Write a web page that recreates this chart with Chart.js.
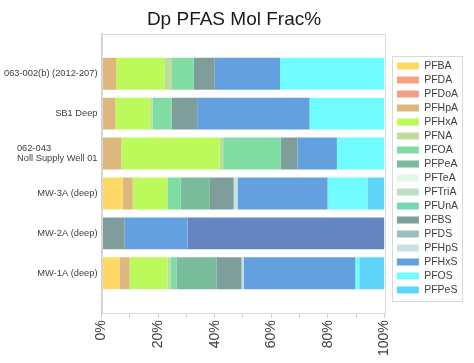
<!DOCTYPE html>
<html>
<head>
<meta charset="utf-8">
<script src="https://cdn.jsdelivr.net/npm/chart.js@4/dist/chart.umd.min.js"></script>
<style>
  html, body { margin: 0; padding: 0; background: #ffffff; }
  #wrap { width: 474px; height: 363px; }
</style>
</head>
<body>
<div id="wrap"><canvas id="c" width="474" height="363"></canvas></div>
<script>
// ---- data (mol fraction %) ----
const categories = [
  ["063-002(b) (2012-207)"],
  ["SB1 Deep"],
  ["062-043                  ", "Noll Supply Well 01"],
  ["MW-3A (deep)"],
  ["MW-2A (deep)"],
  ["MW-1A (deep)"]
];
const PFBA   = [0,    0,    0,    7.5,  0,    6.3];
const PFDA   = [0,    0,    0,    0,    0,    0];
const PFDoA  = [0,    0,    0,    0,    0,    0];
const PFHpA  = [5.2,  4.9,  7.0,  3.5,  0,    3.6];
const PFHxA  = [17.2, 12.3, 34.8, 12.3, 0,    13.4];
const PFNA   = [2.5,  0.8,  1.2,  0,    0,    1.0];
const PFOA   = [7.7,  6.8,  20.4, 4.7,  0,    2.3];
const PFPeA  = [0,    0,    0,    10.3, 0,    14.0];
const PFTeA  = [0,    0,    0,    0,    0,    0];
const PFTriA = [0,    0,    0,    0,    0,    0];
const PFUnA  = [0,    0,    0,    0,    0,    0];
const PFBS   = [7.4,  9.0,  5.9,  8.4,  8.2,  8.9];
const PFDS   = [0,    0,    0,    0,    0,    0];
const PFHpS  = [0,    0,    0,    1.4,  0,    0.7];
const PFHxS  = [23.1, 39.7, 13.9, 31.8, 22.2, 39.5];
const unlisted = [0,  0,    0,    0,    69.6, 0];   // dark-blue series not shown in legend
const PFOS   = [36.9, 26.5, 16.8, 14.1, 0,    1.4];
const PFPeS  = [0,    0,    0,    6.0,  0,    8.9];
const xTicks = [0, 20, 40, 60, 80, 100];

const seriesNames  = ["PFBA","PFDA","PFDoA","PFHpA","PFHxA","PFNA","PFOA","PFPeA","PFTeA","PFTriA","PFUnA","PFBS","PFDS","PFHpS","PFHxS","(unlisted)","PFOS","PFPeS"];
const seriesValues = [PFBA,PFDA,PFDoA,PFHpA,PFHxA,PFNA,PFOA,PFPeA,PFTeA,PFTriA,PFUnA,PFBS,PFDS,PFHpS,PFHxS,unlisted,PFOS,PFPeS];
const seriesColors = ["#FFD966","#F8A07E","#F79C84","#DDB77E","#BCFA5C","#BEDC9E","#7FDDA4","#78BC9C","#E2F8E2","#BEDDC2","#72DAB2","#7F9E9B","#9DBDBF","#C6E2E2","#62A0E0","#6484C2","#70FCFF","#5ED5F8"];

// pad the category axis with an empty slot above and below
const labels = [""].concat(categories, [""]);
const datasets = seriesNames.map((n, i) => ({
  label: n,
  data: [null].concat(seriesValues[i], [null]),
  backgroundColor: seriesColors[i],
  borderWidth: 0,
  categoryPercentage: 1.0,
  barPercentage: 0.8,
  stack: "s"
}));

const FONT = "'Liberation Sans', Arial, sans-serif";
const LEGEND_GAP = 9;

const frame = {
  id: "frame",
  beforeLayout(chart) {
    const lg = chart.legend;
    if (lg && !lg._gapPatched) {
      const f = lg.fit;
      lg.fit = function () { f.call(this); this.width += LEGEND_GAP; };
      lg._gapPatched = true;
    }
  },
  afterLayout(chart) {
    const lg = chart.legend;
    if (lg) { lg.left += LEGEND_GAP; lg.width -= LEGEND_GAP; }
  },
  afterDraw(chart) {
    const ctx = chart.ctx, a = chart.chartArea;
    ctx.save();
    ctx.strokeStyle = "#d9d9d9";
    ctx.lineWidth = 1;
    ctx.strokeRect(Math.round(a.left) + 0.5, Math.round(a.top) + 0.5,
                   Math.round(a.right - a.left), Math.round(a.bottom - a.top));
    const hb = chart.legend && chart.legend.legendHitBoxes;
    if (hb && hb.length) {
      let l = Infinity, r = -Infinity, t = Infinity, b = -Infinity;
      hb.forEach(h => { l = Math.min(l, h.left); r = Math.max(r, h.left + h.width);
                        t = Math.min(t, h.top); b = Math.max(b, h.top + h.height); });
      ctx.strokeStyle = "#d9d9d9";
      ctx.strokeRect(Math.round(l - 5) + 0.5, Math.round(t - 5) + 0.5,
                     Math.round(r - l + 9), Math.round(b - t + 10));
    }
    ctx.restore();
  }
};

new Chart(document.getElementById("c"), {
  type: "bar",
  data: { labels, datasets },
  plugins: [frame],
  options: {
    indexAxis: "y",
    responsive: false,
    animation: false,
    layout: { padding: { left: 0, right: 6, top: 0, bottom: 5 } },
    scales: {
      x: {
        stacked: true,
        min: 0, max: 100,
        border: { display: true, color: "#d0d0d0" },
        grid: { drawOnChartArea: false, drawTicks: true, tickLength: 5, color: "#d0d0d0" },
        ticks: {
          stepSize: 10,
          autoSkip: false,
          minRotation: 90, maxRotation: 90,
          padding: 2,
          color: "#404040",
          font: { family: FONT, size: 14 },
          callback: (v) => xTicks.includes(v) ? v + "%" : ""
        }
      },
      y: {
        type: "category",
        stacked: true,
        offset: false,
        border: { display: true, color: "#d0d0d0" },
        grid: { display: false, drawTicks: false },
        ticks: {
          autoSkip: false,
          padding: 4,
          color: "#404040",
          font: { family: FONT, size: 9.3, lineHeight: 1.1 }
        }
      }
    },
    plugins: {
      title: {
        display: true,
        text: "Dp PFAS Mol Frac%",
        color: "#1a1a1a",
        font: { family: FONT, size: 19, weight: "normal" },
        padding: { top: 8, bottom: 3 }
      },
      legend: {
        position: "right",
        align: "start",
        title: { display: true, text: "", padding: { top: 33.25, bottom: 0 }, font: { family: FONT, size: 20 } },
        labels: {
          filter: (item) => item.text !== "(unlisted)",
          boxWidth: 22,
          boxHeight: 7,
          padding: 3.5,
          color: "#404040",
          font: { family: FONT, size: 10.5 }
        }
      },
      tooltip: { enabled: false }
    }
  }
});
</script>
</body>
</html>
